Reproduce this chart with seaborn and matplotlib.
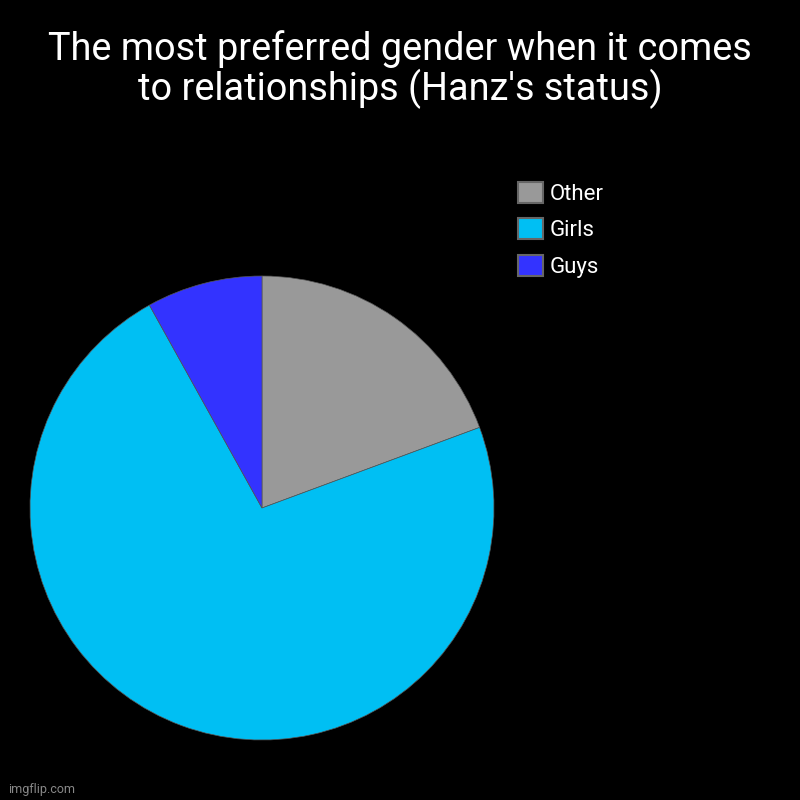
import matplotlib
matplotlib.use('Agg')
import matplotlib.pyplot as plt
import matplotlib.patches as mpatches
import seaborn as sns

# values (Other / Girls / Guys)
labels = ['Other', 'Girls', 'Guys']
values = [12, 45, 5]
colors = ['#999999', '#00bff3', '#3333ff']

sns.set_theme(style='dark')
plt.rcParams['font.family'] = ['Roboto', 'DejaVu Sans']

fig = plt.figure(figsize=(8, 8), dpi=100, facecolor='black')
ax = fig.add_axes([0.0375, 0.075, 0.58, 0.58])
ax.set_facecolor('black')

ax.pie(values, colors=colors, startangle=90, counterclock=False, radius=1,
       wedgeprops=dict(linewidth=0.5, edgecolor='#555555'))
ax.set_xlim(-1, 1)
ax.set_ylim(-1, 1)
ax.set_aspect('equal')
ax.axis('off')

fig.text(0.5, 0.962, "The most preferred gender when it comes\nto relationships (Hanz's status)",
         ha='center', va='top', color='white', fontsize=27.3, linespacing=1.02)

handles = [mpatches.Patch(facecolor=c, edgecolor='#666666', linewidth=1.5, label=l)
           for c, l in zip(colors, labels)]
leg = fig.legend(handles=handles, loc='upper left', bbox_to_anchor=(0.623, 0.798),
                 frameon=False, fontsize=16, labelcolor='white',
                 handlelength=1.1, handleheight=1.1, handletextpad=0.3, labelspacing=0.6)

fig.text(0.01, 0.005, 'imgflip.com', color='#888888', fontsize=9, ha='left', va='bottom')

fig.savefig('out.png', dpi=100, facecolor='black')
